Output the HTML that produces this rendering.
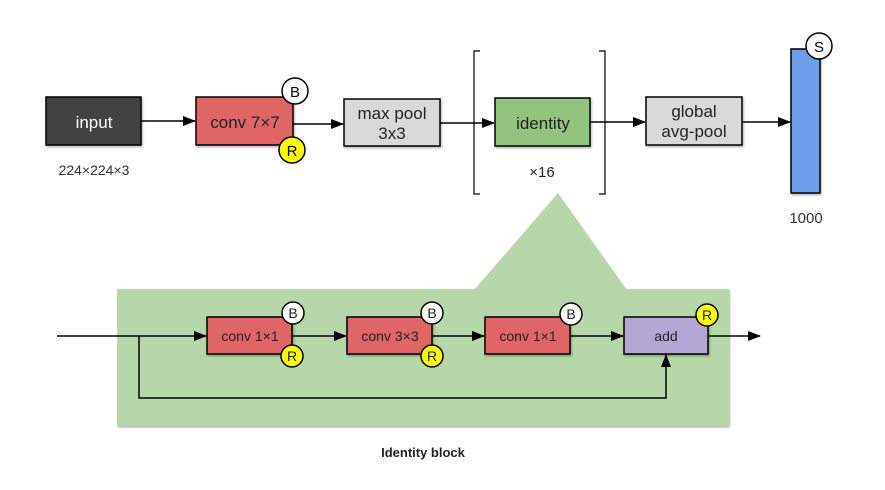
<!DOCTYPE html>
<html><head><meta charset="utf-8"><style>
html,body{margin:0;padding:0;background:#fff;}
svg{display:block;font-family:"Liberation Sans",Arial,sans-serif;}
</style></head><body>
<svg width="885" height="490" viewBox="0 0 885 490" xmlns="http://www.w3.org/2000/svg">
<defs>
<marker id="a" markerWidth="13" markerHeight="10" refX="12" refY="5" orient="auto" markerUnits="userSpaceOnUse"><path d="M0,0 L13,5 L0,10 Z" fill="#000"/></marker>
<filter id="sh" x="-10%" y="-10%" width="130%" height="130%"><feDropShadow dx="1" dy="1.5" stdDeviation="1" flood-color="#000" flood-opacity="0.3"/></filter>
</defs>
<rect x="117" y="289" width="612" height="137" fill="#b6d7a8" filter="url(#sh)"/>
<polygon points="474,290 558,193 627,290" fill="#b6d7a8"/>
<g stroke="#000" stroke-width="1.5" fill="none">
<line x1="141" y1="121" x2="195" y2="121" marker-end="url(#a)"/>
<line x1="293" y1="124" x2="343" y2="124" marker-end="url(#a)"/>
<line x1="440" y1="123" x2="494" y2="123" marker-end="url(#a)"/>
<line x1="590" y1="122" x2="645" y2="122" marker-end="url(#a)"/>
<line x1="742" y1="122" x2="790" y2="122" marker-end="url(#a)"/>
<path d="M480,51 L474,51 L474,194 L480,194" stroke-width="1.2"/>
<path d="M599,51 L605,51 L605,194 L599,194" stroke-width="1.2"/>
</g>
<g stroke="#000" stroke-width="1.5" filter="url(#sh)">
<rect x="46" y="97" width="95" height="48" fill="#434343"/>
<rect x="196" y="97" width="97" height="48" fill="#e06666"/>
<rect x="344" y="99" width="96" height="47" fill="#d9d9d9"/>
<rect x="495" y="98" width="95" height="48" fill="#93c47d"/>
<rect x="646" y="97" width="96" height="48" fill="#d9d9d9"/>
<rect x="791" y="49" width="29" height="144" fill="#6d9eeb"/>
</g>
<g stroke="#000" stroke-width="1.5">
<circle cx="295" cy="91" r="13" fill="#fff"/>
<circle cx="292" cy="150" r="13" fill="#ff0"/>
<circle cx="819" cy="46" r="13" fill="#fff"/>
</g>
<g font-size="17" text-anchor="middle">
<text x="94" y="128" fill="#fff">input</text>
<text x="245" y="128" fill="#222">conv 7×7</text>
<text x="392" y="119" fill="#222">max pool</text>
<text x="392" y="139" fill="#222">3x3</text>
<text x="543" y="129" fill="#222">identity</text>
<text x="694" y="117" fill="#222">global</text>
<text x="694" y="137" fill="#222">avg-pool</text>
<text x="295" y="97" font-size="15">B</text>
<text x="292" y="156" font-size="15">R</text>
<text x="819" y="52" font-size="15">S</text>
<text x="542" y="177" font-size="15" fill="#222">×16</text>
<text x="806" y="223" font-size="15" fill="#333">1000</text>
<text x="94" y="175" font-size="14" fill="#333">224×224×3</text>
</g>
<g stroke="#000" stroke-width="1.5" fill="none">
<line x1="57" y1="336" x2="206" y2="336" marker-end="url(#a)"/>
<line x1="292" y1="336" x2="346" y2="336" marker-end="url(#a)"/>
<line x1="432" y1="336" x2="484" y2="336" marker-end="url(#a)"/>
<line x1="570" y1="336" x2="623" y2="336" marker-end="url(#a)"/>
<line x1="708" y1="336" x2="760" y2="336" marker-end="url(#a)"/>
<path d="M139,336 L139,398 L666,398 L666,355" marker-end="url(#a)"/>
</g>
<g stroke="#000" stroke-width="1.5" filter="url(#sh)">
<rect x="207" y="317" width="85" height="37" fill="#e06666"/>
<rect x="347" y="317" width="85" height="37" fill="#e06666"/>
<rect x="485" y="317" width="85" height="37" fill="#e06666"/>
<rect x="624" y="317" width="84" height="37" fill="#b4a7d6"/>
</g>
<g stroke="#000" stroke-width="1.5">
<circle cx="293" cy="313" r="11" fill="#fff"/>
<circle cx="292" cy="356" r="11" fill="#ff0"/>
<circle cx="432" cy="313" r="11" fill="#fff"/>
<circle cx="432" cy="356" r="11" fill="#ff0"/>
<circle cx="571" cy="314" r="11" fill="#fff"/>
<circle cx="707" cy="315" r="11" fill="#ff0"/>
</g>
<g font-size="14" text-anchor="middle" fill="#222">
<text x="250" y="341">conv 1×1</text>
<text x="390" y="341">conv 3×3</text>
<text x="528" y="341">conv 1×1</text>
<text x="666" y="341">add</text>
<text x="293" y="318">B</text>
<text x="292" y="361">R</text>
<text x="432" y="318">B</text>
<text x="432" y="361">R</text>
<text x="571" y="319">B</text>
<text x="707" y="320">R</text>
</g>
<text x="423" y="457" font-size="13" font-weight="bold" text-anchor="middle" fill="#222">Identity block</text>
</svg>
</body></html>
